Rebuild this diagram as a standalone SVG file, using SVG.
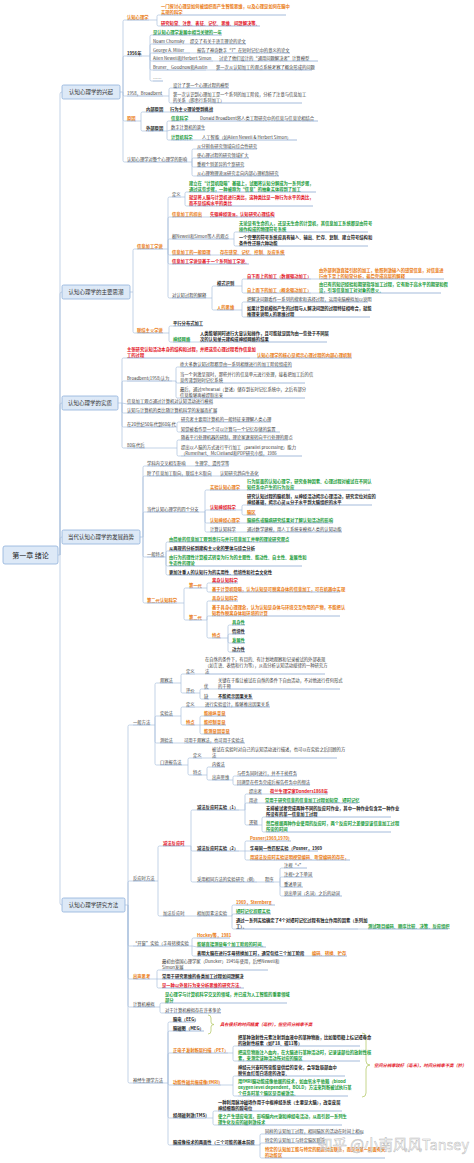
<svg xmlns="http://www.w3.org/2000/svg" width="474" height="1163" viewBox="0 0 474 1163">
<style>
text{font-family:"Noto Sans CJK SC","Noto Sans",sans-serif;font-size:4.3px;fill:#3a3a3a}
.b{font-weight:700;fill:#1e1e1e}
.o{font-weight:700;fill:#ea7a10}
.r{font-weight:700;fill:#e3101c}
.g{font-weight:700;fill:#219c3a}
.i{font-style:italic}
.u{stroke:#8eaad2;stroke-width:.8;fill:none}
.c{stroke:#aac0dc;stroke-width:.7;fill:none}
.box{fill:#dde9f7;stroke:#8fb0da;stroke-width:.8}
.bt{font-size:5.5px;fill:#333;text-anchor:middle}
.br{stroke:#b7cc6e;stroke-width:.8;fill:none}
.wm{font-size:14.5px;fill:#fff;fill-opacity:.8;stroke:#9a9a9a;stroke-width:.5;stroke-opacity:.7}
</style>
<rect width="474" height="1163" fill="#fff"/>
<g id="connectors">
<path class="c" d="M58,555H60M60,555V94Q60,92 62,92M60,555V294Q60,292 62,292M60,555V405Q60,403 62,403M60,555V539Q60,537 62,537M60,555V903Q60,905 62,905"/>
<path class="c" d="M120,92H123M123,92V21.5Q123,20 124.5,20H127M123,92V57.5Q123,56 124.5,56H127M123,92V94.5Q123,96 124.5,96H127M123,92V119.5Q123,121 124.5,121H127M123,92V160.5Q123,162 124.5,162H127"/>
<path class="c" d="M149,20H157M157,20V16.5Q157,15 158.5,15H161M157,20V24.5Q157,26 158.5,26H161"/>
<path class="c" d="M142,56H150M150,56V36.5Q150,35 151.5,35H153M150,56V45.5Q150,44 151.5,44H153M150,56V54.5Q150,53 151.5,53H153M150,56V59.5Q150,61 151.5,61H153M150,56V68.5Q150,70 151.5,70H153M150,56V79.5Q150,81 151.5,81H153M181,44H190M190,53H197M213,61H219M206,70H216"/>
<path class="c" d="M163,96H169M169,96V89.5Q169,88 170.5,88H173M169,96V101.5Q169,103 170.5,103H173"/>
<path class="c" d="M136,121H141M141,121V113.5Q141,112 142.5,112H146M141,121V129.5Q141,131 142.5,131H146M163,112H170M163,131H167M167,131V122.5Q167,121 168.5,121H171M167,131L171,130M167,131V138.5Q167,140 168.5,140H171M188,121H200M193,140H202"/>
<path class="c" d="M187,162H192M192,162V150.5Q192,149 193.5,149H197M192,162V159.5Q192,158 193.5,158H197M192,162V165.5Q192,167 193.5,167H197M192,162V174.5Q192,176 193.5,176H197"/>
<path class="c" d="M130,292H133M133,292V250.5Q133,249 134.5,249H137M133,292V331.5Q133,333 134.5,333H137"/>
<path class="c" d="M163,249H168M168,249V198.5Q168,197 169.5,197H172M168,249V218.5Q168,217 169.5,217H172M168,249V240.5Q168,239 169.5,239H172M168,249V253.5Q168,255 169.5,255H172M168,249V262.5Q168,264 169.5,264H172M168,249V296.5Q168,298 169.5,298H172"/>
<path class="c" d="M181,197H185M185,197V193.5Q185,192 186.5,192H189M185,197V204.5Q185,206 186.5,206H189M202,217H210M228,239H234M234,239V233.5Q234,232 235.5,232H239M234,239V244.5Q234,246 235.5,246H239M211,255H220"/>
<path class="c" d="M206,298H212M212,298V287.5Q212,286 213.5,286H217M212,298V308.5Q212,310 213.5,310H217M234,286H242M242,286V280.5Q242,279 243.5,279H247M242,286V291.5Q242,293 243.5,293H247M311,279H319M311,293H319M234,310H242M242,310V303.5Q242,302 243.5,302H247M242,310V315.5Q242,317 243.5,317H247"/>
<path class="c" d="M163,333H169M169,333V327.5Q169,326 170.5,326H173M169,333V340.5Q169,342 170.5,342H173M190,342H200"/>
<path class="c" d="M118,403H122M122,403V359.5Q122,358 123.5,358H127M122,403V382.5Q122,381 123.5,381H127M122,403L127,404M122,403V411.5Q122,413 123.5,413H127M122,403V425.5Q122,427 123.5,427H127M122,403V446.5Q122,448 123.5,448H127M250,358H257"/>
<path class="c" d="M172,381H176M176,381V368.5Q176,367 177.5,367H180M176,381V381.5Q176,383 177.5,383H180M176,381V396.5Q176,398 177.5,398H180M174,427H177M177,427V423.5Q177,422 178.5,422H181M177,427V430.5Q177,432 178.5,432H181M145,448H177M177,448V441.5Q177,440 178.5,440H181M177,448V454.5Q177,456 178.5,456H181"/>
<path class="c" d="M140,537H143M143,537V467.5Q143,466 144.5,466H147M143,537V477.5Q143,476 144.5,476H147M143,537V513.5Q143,512 144.5,512H147M143,537V555.5Q143,557 144.5,557H147M143,537V601.5Q143,603 144.5,603H147M186,466H195M212,476H220"/>
<path class="c" d="M199,512H205M205,512V491.5Q205,490 206.5,490H210M205,512V511.5Q205,510 206.5,510H210M205,512V521.5Q205,523 206.5,523H210M205,512V530.5Q205,532 206.5,532H210M240,490H247M236,510H242M242,510V506.5Q242,505 243.5,505H247M242,510V513.5Q242,515 243.5,515H247M240,523H247M236,532H247"/>
<path class="c" d="M164,557H166M166,557V543.5Q166,542 167.5,542H169M166,557V552.5Q166,551 167.5,551H169M166,557V564.5Q166,566 167.5,566H169M166,557V573.5Q166,575 167.5,575H169"/>
<path class="c" d="M177,603H184M184,603V589.5Q184,588 185.5,588H189M184,603V618.5Q184,620 185.5,620H189M202,588H207M207,588V584.5Q207,583 208.5,583H212M207,588V590.5Q207,592 208.5,592H212M202,620H207M207,620V602.5Q207,601 208.5,601H212M207,620V617.5Q207,616 208.5,616H212M207,620V636.5Q207,638 208.5,638H212M221,638H228M228,638V626.5Q228,625 229.5,625H232M228,638V635.5Q228,634 229.5,634H232M228,638V641.5Q228,643 229.5,643H232M228,638V650.5Q228,652 229.5,652H232"/>
<path class="c" d="M125,905H128M128,905V726.5Q128,725 129.5,725H133M128,905V882.5Q128,881 129.5,881H133M128,905V944.5Q128,946 129.5,946H133M128,905V977.5Q128,979 129.5,979H133M128,905V1005.5Q128,1007 129.5,1007H133M128,905V1081.5Q128,1083 129.5,1083H133"/>
<path class="c" d="M150,725H155M155,725V684.5Q155,683 156.5,683H160M155,725V717.5Q155,716 156.5,716H160M155,725V741.5Q155,743 156.5,743H160M155,725V763.5Q155,765 156.5,765H160"/>
<path class="c" d="M173,683H181M181,683V675.5Q181,674 182.5,674H186M181,683V691.5Q181,693 182.5,693H186M195,674H205M195,693H200M200,693V690.5Q200,689 201.5,689H204M200,693V697.5Q200,699 201.5,699H204M209,689H218M209,699H218"/>
<path class="c" d="M173,716H181M181,716V708.5Q181,707 182.5,707H186M181,716V723.5Q181,725 182.5,725H186M195,707H205M195,725H200M200,725V717.5Q200,716 201.5,716H204M200,725H204M200,725V732.5Q200,734 201.5,734H204M173,743H184"/>
<path class="c" d="M182,765H188M188,765V759.5Q188,758 189.5,758H193M188,765V773.5Q188,775 189.5,775H193M202,758H212M202,775H207M207,775V768.5Q207,767 208.5,767H212M207,775V778.5Q207,780 208.5,780H212M229,780H233M233,780V777.5Q233,776 234.5,776H237M233,780V783.5Q233,785 234.5,785H237"/>
<path class="c" d="M155,881H158M158,881V847.5Q158,846 159.5,846H163M158,881V914.5Q158,916 159.5,916H163M185,846H191M191,846V811.5Q191,810 192.5,810H197M191,846V849.5Q191,851 192.5,851H197M191,846V880.5Q191,882 192.5,882H197"/>
<path class="c" d="M239,810H245M245,810V795.5Q245,794 246.5,794H249M245,810V804.5Q245,803 246.5,803H249M245,810V823.5Q245,825 246.5,825H249M262,794H270M258,803H265M258,825H262M262,825V818.5Q262,817 263.5,817H266M262,825V830.5Q262,832 263.5,832H266"/>
<path class="c" d="M239,851H245M245,851V842.5Q245,841 246.5,841H250M245,851H250M245,851V858.5Q245,860 246.5,860H250M257,882H265M274,882H280M280,882V869.5Q280,868 281.5,868H284M280,882V878.5Q280,877 281.5,877H284M280,882V885.5Q280,887 281.5,887H284M280,882V894.5Q280,896 281.5,896H284"/>
<path class="c" d="M185,916H197M227,916H232M232,916V906.5Q232,905 233.5,905H236M232,916V915.5Q232,914 233.5,914H236M232,916V927.5Q232,929 233.5,929H236M358,929H368"/>
<path class="c" d="M187,946H192M192,946V939.5Q192,938 193.5,938H197M192,946L197,947M192,946V954.5Q192,956 193.5,956H197M304,956H312"/>
<path class="c" d="M150,979H157M157,979V971.5Q157,970 158.5,970H162M157,979H162M157,979V986.5Q157,988 158.5,988H162M155,1007H160M160,1007V1004.5Q160,1003 161.5,1003H165M160,1007V1011.5Q160,1013 161.5,1013H165"/>
<path class="c" d="M163,1083H168M168,1083V1023.5Q168,1022 169.5,1022H173M168,1083V1032.5Q168,1031 169.5,1031H173M168,1083V1054.5Q168,1053 169.5,1053H173M168,1083V1083.5Q168,1085 169.5,1085H173M168,1083V1116.5Q168,1118 169.5,1118H173M168,1083V1143.5Q168,1145 169.5,1145H173"/>
<path class="c" d="M228,1053H233M233,1053V1047.5Q233,1046 234.5,1046H238M233,1053V1059.5Q233,1061 234.5,1061H238M221,1085H233M233,1085V1077.5Q233,1076 234.5,1076H238M233,1085V1094.5Q233,1096 234.5,1096H238M206,1118H213M213,1118V1112.5Q213,1111 214.5,1111H218M213,1118V1123.5Q213,1125 214.5,1125H218M255,1145H260M260,1145V1135.5Q260,1134 261.5,1134H265M260,1145V1144.5Q260,1143 261.5,1143H265M260,1145V1156.5Q260,1158 261.5,1158H265"/>
<path class="br" d="M208,1015Q211,1015 211,1018V1022Q211,1024.5 214,1024.5Q211,1024.5 211,1027V1031Q211,1034 208,1034"/>
<path class="br" d="M362,1033Q366,1033 366,1037V1061Q366,1065 370,1065Q366,1065 366,1069V1093Q366,1097 362,1097"/>
</g>
<g id="root"><rect class="box" x="3" y="546" width="55" height="18" rx="2"/><text x="30.5" y="557.5" style="font-size:7px;text-anchor:middle;fill:#222">第一章 绪论</text></g>
<g id="main1"><rect class="box" x="62" y="85" width="58" height="14" rx="1.5"/><text class="bt" x="91" y="94">认知心理学的兴起</text></g>
<g id="main2"><rect class="box" x="62" y="285" width="68" height="14" rx="1.5"/><text class="bt" x="96" y="294">认知心理学的主要思潮</text></g>
<g id="main3"><rect class="box" x="62" y="396" width="56" height="14" rx="1.5"/><text class="bt" x="90" y="405">认知心理学的实质</text></g>
<g id="main4"><rect class="box" x="62" y="530" width="78" height="14" rx="1.5"/><text class="bt" x="101" y="539">当代认知心理学的发展趋势</text></g>
<g id="main5"><rect class="box" x="62" y="898" width="63" height="14" rx="1.5"/><text class="bt" x="93.5" y="907">认知心理学研究方法</text></g>

<g id="n1"><text class="o" x="127" y="18.5">认知心理学</text><path class="u" d="M127 20H149"/></g>
<g id="n1a"><text class="o" x="161" y="7.5">一门探讨心理是如何被组织而产生智能思维，以及心理是如何在脑中</text><text class="o" x="161" y="13.5">实现的科学</text><path class="u" d="M161 15H286"/></g>
<g id="n1b"><text class="r" x="161" y="24.5">研究知觉、注意、表征、记忆、思维、问题解决等。</text><path class="u" d="M161 26H260"/></g>
<g id="n2"><text class="b" x="127" y="54.5">1956年</text><path class="u" d="M127 56H142"/></g>
<g id="n2a"><text class="g" x="153" y="33.5">是认知心理学发展中相当关键的一年</text><path class="u" d="M153 35H222"/></g>
<g id="n2b"><text x="153" y="42.5">Noam Chomsky</text><path class="u" d="M153 44H181"/></g>
<g id="n2b1"><text x="190" y="42.5">提交了有关于语言理论的论文</text><path class="u" d="M190 44H246"/></g>
<g id="n2c"><text x="153" y="51.5">George A. Miller</text><path class="u" d="M153 53H190"/></g>
<g id="n2c1"><text x="197" y="51.5">报告了神奇数字“7”在短时记忆中的意义的论文</text><path class="u" d="M197 53H290"/></g>
<g id="n2d"><text x="153" y="59.5">Allen Newell和Herbert Simon</text><path class="u" d="M153 61H213"/></g>
<g id="n2d1"><text x="219" y="59.5">讨论了他们设计的“通用问题解决者”计算模型</text><path class="u" d="M219 61H318"/></g>
<g id="n2e"><text x="153" y="68.5">Bruner、Goodnow和Austin</text><path class="u" d="M153 70H206"/></g>
<g id="n2e1"><text x="216" y="68.5">第一次从认知加工的观点系统考察了概念形成的问题</text><path class="u" d="M216 70H312"/></g>
<g id="n2f"><text x="153" y="79.5">……</text><path class="u" d="M153 81H163"/></g>
<g id="n3"><text x="127" y="94.5">1958，Broadbent</text><path class="u" d="M127 96H163"/></g>
<g id="n3a"><text x="173" y="86.5">设计了第一个心理过程的模型</text><path class="u" d="M173 88H229"/></g>
<g id="n3b"><text x="173" y="95.5">第一次认识到心理加工是一个系列的加工阶段，分析了注意与信息加工</text><text x="173" y="101.5">的关系（即串行系列加工）</text><path class="u" d="M173 103H302"/></g>
<g id="n4"><text class="o" x="127" y="119.5">原因</text><path class="u" d="M127 121H136"/></g>
<g id="n4a"><text class="b" x="146" y="110.5">内部原因</text><path class="u" d="M146 112H163"/></g>
<g id="n4a1"><text class="b" x="170" y="110.5">行为主义理论受到挑战</text><path class="u" d="M170 112H213"/></g>
<g id="n4b"><text class="b" x="146" y="129.5">外部原因</text><path class="u" d="M146 131H163"/></g>
<g id="n4b1"><text class="g" x="171" y="119.5">信息科学</text><path class="u" d="M171 121H188"/></g>
<g id="n4b1a"><text x="200" y="119.5">Donald Broadbent将人类工程研究中的信息与信息论相结合</text><path class="u" d="M200 121H318"/></g>
<g id="n4b2"><text x="171" y="128.5">数字计算机的诞生</text><path class="u" d="M171 130H205"/></g>
<g id="n4b3"><text class="g" x="171" y="138.5">计算机科学</text><path class="u" d="M171 140H193"/></g>
<g id="n4b3a"><text x="202" y="138.5">人工智能（如Allen Newell &amp; Herbert Simon）</text><path class="u" d="M202 140H297"/></g>
<g id="n5"><text x="127" y="160.5">认知心理学对整个心理学的影响</text><path class="u" d="M127 162H187"/></g>
<g id="n5a"><text x="197" y="147.5">从分割各研究领域向综合性研究</text><path class="u" d="M197 149H257"/></g>
<g id="n5b"><text x="197" y="156.5">使心理过程的研究领域扩大</text><path class="u" d="M197 158H249"/></g>
<g id="n5c"><text x="197" y="165.5">重视个别差异的个案研究</text><path class="u" d="M197 167H244"/></g>
<g id="n5d"><text x="197" y="174.5">从心理物理流派研究走向内部心理机制研究</text><path class="u" d="M197 176H279"/></g>

<g id="m1"><text class="o" x="137" y="247.5">信息加工学说</text><path class="u" d="M137 249H163"/></g>
<g id="m1a"><text x="172" y="195.5">定义</text><path class="u" d="M172 197H181"/></g>
<g id="m1a1"><text class="g" x="189" y="184.5">建立在“计算机隐喻”基础上，试图将认知分解成为一系列步骤，</text><text class="g" x="189" y="190.5">通过这些步骤，一种被称为“信息”的抽象实体得到了加工</text><path class="u" d="M189 192H316"/></g>
<g id="m1a2"><text class="r" x="189" y="198.5">就是将人脑与计算机进行类比，这种类比是一种行为水平的类比，</text><text class="r" x="189" y="204.5">而不是结构水平的类比</text><path class="u" d="M189 206H313"/></g>
<g id="m1b"><text class="o" x="172" y="215.5">信息加工的提出</text><path class="u" d="M172 217H202"/></g>
<g id="m1b1"><text class="r" x="210" y="215.5">先驱神经流派，认知研究心理结构</text><path class="u" d="M210 217H275"/></g>
<g id="m1c"><text x="172" y="237.5">据Newell和Simon等人的观点</text><path class="u" d="M172 239H228"/></g>
<g id="m1c1"><text class="g" x="239" y="224.5">无论是有生命的人，还是无生命的计算机，其信息加工系统都是由符号</text><text class="g" x="239" y="230.5">操作构成的物理符号系统</text><path class="u" d="M239 232H368"/></g>
<g id="m1c2"><text class="b" x="239" y="238.5">一个完整的符号系统应具有输入、输出、贮存、复制、建立符号结构和</text><text class="b" x="239" y="244.5">条件性迁移六种功能</text><path class="u" d="M239 246H368"/></g>
<g id="m1d"><text class="o" x="172" y="253.5">信息加工的一般原理</text><path class="u" d="M172 255H211"/></g>
<g id="m1d1"><text class="o" x="220" y="253.5">存在感觉、记忆、控制、反应系统</text><path class="u" d="M220 255H285"/></g>
<g id="m1e"><text class="r" x="172" y="262.5">信息加工学说是基于一个系列加工学说。</text><path class="u" d="M172 264H249"/></g>
<g id="m1f"><text x="172" y="296.5">对认知过程的解释</text><path class="u" d="M172 298H206"/></g>
<g id="m1f1"><text class="b" x="217" y="284.5">模式识别</text><path class="u" d="M217 286H234"/></g>
<g id="m1f1a"><text class="r" x="247" y="277.5">自下而上的加工（数据驱动加工）</text><path class="u" d="M247 279H311"/></g>
<g id="m1f1a1"><text class="o" x="319" y="271.5">由外部刺激直接引起的加工，依照刺激输入的感觉信息，对信息进</text><text class="o" x="319" y="277.5">行由下至上的知觉分析，最后完成高层的解释</text><path class="u" d="M319 279H444"/></g>
<g id="m1f1b"><text class="o" x="247" y="291.5">自上而下的加工（概念驱动加工）</text><path class="u" d="M247 293H311"/></g>
<g id="m1f1b1"><text class="g" x="319" y="285.5">由已有的知识经验和期望指导加工过程，它有助于高水平的期望和假</text><text class="g" x="319" y="291.5">设，引导信息加工对对象的意义。</text><path class="u" d="M319 293H441"/></g>
<g id="m1f2"><text class="o" x="217" y="308.5">人的思维</text><path class="u" d="M217 310H234"/></g>
<g id="m1f2a"><text x="247" y="300.5">把解决问题看作一系列的搜索和选择过程，运用电脑模拟加以说明</text><path class="u" d="M247 302H368"/></g>
<g id="m1f2b"><text class="b" x="247" y="309.5">如果计算机模拟产生的过程与人解决问题的过程特征相吻合，就能</text><text class="b" x="247" y="315.5">推理来说明人的思维过程</text><path class="u" d="M247 317H370"/></g>
<g id="m2"><text class="o" x="137" y="331.5">联结主义学说</text><path class="u" d="M137 333H163"/></g>
<g id="m2a"><text class="b" x="173" y="324.5">平行分布式加工</text><path class="u" d="M173 326H203"/></g>
<g id="m2b"><text class="g" x="173" y="340.5">神经网络</text><path class="u" d="M173 342H190"/></g>
<g id="m2b1"><text class="b" x="200" y="334.5">人类能够同时进行大量认知操作，且可能就是因为由一些处于不同层</text><text class="b" x="200" y="340.5">次的认知单元建构成神经网络的结果</text><path class="u" d="M200 342H327"/></g>

<g id="k1"><text class="r" x="127" y="350.5">主张研究认知活动本身的结构和过程，并把这些心理过程看作信息加</text><text class="r" x="127" y="356.5">工的过程</text><path class="u" d="M127 358H250"/></g>
<g id="k1a"><text class="o" x="257" y="356.5">认知心理学的核心是揭示心理过程的内部心理机制</text><path class="u" d="M257 358H352"/></g>
<g id="k2"><text x="127" y="379.5">Broadbent(1958)认为</text><path class="u" d="M127 381H172"/></g>
<g id="k2a"><text x="180" y="365.5">绝大多数认知过程都是由一系列相继进行的加工阶段组成的</text><path class="u" d="M180 367H292"/></g>
<g id="k2b"><text x="180" y="375.5">当一个刺激呈现时，那些并行的信息单元进行处理，接着把加工后的信</text><text x="180" y="381.5">息传递到短时记忆系统</text><path class="u" d="M180 383H305"/></g>
<g id="k2c"><text x="180" y="390.5">最后，通过rehearsal（复述）储存到长时记忆系统中，之后有部分</text><text x="180" y="396.5">信息能够再被提取出来</text><path class="u" d="M180 398H305"/></g>
<g id="k3"><text x="127" y="402.5">信息加工观点通过计算机对认知活动进行模拟</text><path class="u" d="M127 404H213"/></g>
<g id="k4"><text x="127" y="411.5">认知与计算机的类比随计算机科学的发展而扩展</text><path class="u" d="M127 413H217"/></g>
<g id="k5"><text x="127" y="425.5">在20世纪50年代到60年代</text><path class="u" d="M127 427H174"/></g>
<g id="k5a"><text x="181" y="420.5">研究者主要用计算机的一般特征来理解人类心理</text><path class="u" d="M181 422H271"/></g>
<g id="k5b"><text x="181" y="430.5">知觉被看作是一个可以计算与一个记忆存储的装置</text><path class="u" d="M181 432H280"/></g>
<g id="k6"><text x="127" y="446.5">80年代后</text><path class="u" d="M127 448H145"/></g>
<g id="k6a"><text x="181" y="438.5">随着平行处理机器的研制，理论家逐渐转向平行处理的观点</text><path class="u" d="M181 440H288"/></g>
<g id="k6b"><text x="181" y="448.5">提出以人脑的方式进行平行加工（parallel processing）能力</text><text x="181" y="454.5">（Rumelhart、McClelland和PDP研究小组，1986</text><path class="u" d="M181 456H302"/></g>

<g id="d1"><text x="147" y="464.5">学科内交叉相互影响</text><path class="u" d="M147 466H186"/></g>
<g id="d1a"><text x="195" y="464.5">生理学、遗传学等</text><path class="u" d="M195 466H229"/></g>
<g id="d2"><text x="147" y="474.5">除了信息加工取向，联结主义取向</text><path class="u" d="M147 476H212"/></g>
<g id="d2a"><text x="220" y="474.5">认知研究趋向生态化</text><path class="u" d="M220 476H259"/></g>
<g id="d3"><text x="147" y="510.5">当代认知心理学的四个分支</text><path class="u" d="M147 512H199"/></g>
<g id="d3a"><text class="o" x="210" y="488.5">实验认知心理学</text><path class="u" d="M210 490H240"/></g>
<g id="d3a1"><text class="g" x="247" y="482.5">行为层面的认知心理学，研究各种因素、心理过程对被试在不同认</text><text class="g" x="247" y="488.5">知任务中产生的行为反应</text><path class="u" d="M247 490H370"/></g>
<g id="d3b"><text class="r" x="210" y="508.5">认知神经科学</text><path class="u" d="M210 510H236"/></g>
<g id="d3b1"><text class="b" x="247" y="497.5">研究认知过程的脑机制，从神经活动揭示心理活动，研究定位对应的</text><text class="b" x="247" y="503.5">神经基础，揭示心灵从分子水平到大脑组织的水平</text><path class="u" d="M247 505H372"/></g>
<g id="d3b2"><text class="o" x="247" y="513.5">脑区</text><path class="u" d="M247 515H256"/></g>
<g id="d3c"><text class="o" x="210" y="521.5">认知神经心理学</text><path class="u" d="M210 523H240"/></g>
<g id="d3c1"><text class="g" x="247" y="521.5">脑损伤或脑病研究结果对了解认知活动的影响</text><path class="u" d="M247 523H333"/></g>
<g id="d3d"><text x="210" y="530.5">计算认知科学</text><path class="u" d="M210 532H236"/></g>
<g id="d3d1"><text x="247" y="530.5">通过数学建模，用人工系统来模拟人类的认知功能</text><path class="u" d="M247 532H342"/></g>
<g id="d4"><text x="147" y="555.5">一般特点</text><path class="u" d="M147 557H164"/></g>
<g id="d4a"><text class="g" x="169" y="540.5">由简单的信息加工观到串行与并行信息加工并举的理论研究观点</text><path class="u" d="M169 542H285"/></g>
<g id="d4b"><text class="b" x="169" y="549.5">从再现的分析到建构主义化的整体与综合分析</text><path class="u" d="M169 551H252"/></g>
<g id="d4c"><text class="g" x="169" y="558.5">由行为的理性计算模式转变为行为的主观性、能动性、自主性、发展性和</text><text class="g" x="169" y="564.5">生态性的理论</text><path class="u" d="M169 566H302"/></g>
<g id="d4d"><text class="b" x="169" y="573.5">更加注重人的认知行为的实用性、情境性和社会文化性</text><path class="u" d="M169 575H268"/></g>
<g id="d5"><text class="o" x="147" y="601.5">第二代认知科学</text><path class="u" d="M147 603H177"/></g>
<g id="d5a"><text class="o" x="189" y="586.5">第一代</text><path class="u" d="M189 588H202"/></g>
<g id="d5a1"><text class="r" x="212" y="581.5">离身认知科学</text><path class="u" d="M212 583H238"/></g>
<g id="d5a2"><text class="o" x="212" y="590.5">基于计算机隐喻，认为认知是可脱离身体的信息加工，可在机器中实现</text><path class="u" d="M212 592H340"/></g>
<g id="d5b"><text class="o" x="189" y="618.5">第二代</text><path class="u" d="M189 620H202"/></g>
<g id="d5b1"><text class="o" x="212" y="599.5">具身认知科学</text><path class="u" d="M212 601H238"/></g>
<g id="d5b2"><text class="o" x="212" y="608.5">基于具身心理理念，认为认知是身体与环境交互作用的产物，不能把认</text><text class="o" x="212" y="614.5">知看作脱离身体和环境的计算</text><path class="u" d="M212 616H340"/></g>
<g id="d5b3"><text class="o" x="212" y="636.5">特点</text><path class="u" d="M212 638H221"/></g>
<g id="d5b3a"><text class="g" x="232" y="623.5">具身性</text><path class="u" d="M232 625H245"/></g>
<g id="d5b3b"><text class="b" x="232" y="632.5">情境性</text><path class="u" d="M232 634H245"/></g>
<g id="d5b3c"><text class="g" x="232" y="641.5">发展性</text><path class="u" d="M232 643H245"/></g>
<g id="d5b3d"><text class="b" x="232" y="650.5">动力性</text><path class="u" d="M232 652H245"/></g>

<g id="e1"><text x="133" y="723.5">一般方法</text><path class="u" d="M133 725H150"/></g>
<g id="e1a"><text x="160" y="681.5">观察法</text><path class="u" d="M160 683H173"/></g>
<g id="e1a1"><text x="186" y="672.5">定义</text><path class="u" d="M186 674H195"/></g>
<g id="e1a1a"><text x="205" y="660.5">在自然的条件下，有目的、有计划地观察和记录被试的外部表现</text><text x="205" y="666.5">（如言语、表情和行为等），从而分析认知活动规律的一种研究方</text><text x="205" y="672.5">法</text><path class="u" d="M205 674H325"/></g>
<g id="e1a2"><text x="186" y="691.5">评价</text><path class="u" d="M186 693H195"/></g>
<g id="e1a2a"><text x="204" y="687.5">优</text><path class="u" d="M204 689H209"/></g>
<g id="e1a2a1"><text x="218" y="681.5">关键在于能让被试在自然的条件下自由活动，不对他进行任何形式</text><text x="218" y="687.5">的干预</text><path class="u" d="M218 689H340"/></g>
<g id="e1a2b"><text x="204" y="697.5">缺</text><path class="u" d="M204 699H209"/></g>
<g id="e1a2b1"><text class="b" x="218" y="697.5">不能揭示因果关系</text><path class="u" d="M218 699H253"/></g>
<g id="e1b"><text x="160" y="714.5">实验法</text><path class="u" d="M160 716H173"/></g>
<g id="e1b1"><text x="186" y="705.5">定义</text><path class="u" d="M186 707H195"/></g>
<g id="e1b1a"><text x="205" y="705.5">进行实验设计，能够推出因果关系</text><path class="u" d="M205 707H270"/></g>
<g id="e1b2"><text class="o" x="186" y="723.5">特点</text><path class="u" d="M186 725H195"/></g>
<g id="e1b2a"><text class="o" x="204" y="714.5">能操纵变量</text><path class="u" d="M204 716H226"/></g>
<g id="e1b2b"><text class="o" x="204" y="723.5">能控制变量</text><path class="u" d="M204 725H226"/></g>
<g id="e1b2c"><text class="o" x="204" y="732.5">能测量因变量</text><path class="u" d="M204 734H230"/></g>
<g id="e1c"><text x="160" y="741.5">测验法</text><path class="u" d="M160 743H173"/></g>
<g id="e1c1"><text x="184" y="741.5">可用于观察法，也可用于实验法</text><path class="u" d="M184 743H245"/></g>
<g id="e1d"><text x="160" y="763.5">口语报告法</text><path class="u" d="M160 765H182"/></g>
<g id="e1d1"><text x="193" y="756.5">定义</text><path class="u" d="M193 758H202"/></g>
<g id="e1d1a"><text x="212" y="750.5">被试在实验时对自己的认知活动进行描述，也可以在实验之后回顾的方</text><text x="212" y="756.5">法</text><path class="u" d="M212 758H337"/></g>
<g id="e1d2"><text x="193" y="773.5">特点</text><path class="u" d="M193 775H202"/></g>
<g id="e1d2a"><text x="212" y="765.5">内省法</text><path class="u" d="M212 767H225"/></g>
<g id="e1d2b"><text x="212" y="778.5">出声思维</text><path class="u" d="M212 780H229"/></g>
<g id="e1d2b1"><text x="237" y="774.5">与任务同时进行，并不干扰任务</text><path class="u" d="M237 776H297"/></g>
<g id="e1d2b2"><text x="237" y="783.5">回溯是在任务完成后报告任务中的想法</text><path class="u" d="M237 785H310"/></g>

<g id="e2"><text x="133" y="879.5">反应时方法</text><path class="u" d="M133 881H155"/></g>
<g id="e2a"><text class="r" x="163" y="844.5">减法反应时</text><path class="u" d="M163 846H185"/></g>
<g id="e2a1"><text class="b" x="197" y="808.5">减法反应时实验（1）</text><path class="u" d="M197 810H239"/></g>
<g id="e2a1a"><text x="249" y="792.5">提出者</text><path class="u" d="M249 794H262"/></g>
<g id="e2a1a1"><text class="r" x="270" y="792.5">荷兰生理学家Donders1868年</text><path class="u" d="M270 794H328"/></g>
<g id="e2a1b"><text x="249" y="801.5">用途</text><path class="u" d="M249 803H258"/></g>
<g id="e2a1b1"><text class="g" x="265" y="801.5">常用于研究信息的信息加工过程如知觉、短时记忆</text><path class="u" d="M265 803H358"/></g>
<g id="e2a1c"><text x="249" y="823.5">逻辑</text><path class="u" d="M249 825H258"/></g>
<g id="e2a1c1"><text class="b" x="266" y="809.5">安排被试者完成两种不同的反应时作业，其中一种作业包含另一种作业</text><text class="b" x="266" y="815.5">所没有的某一信息加工过程</text><path class="u" d="M266 817H391"/></g>
<g id="e2a1c2"><text class="g" x="266" y="824.5">然后根据两种作业使用的反应时，两个反应时之差便是该信息加工过程</text><text class="g" x="266" y="830.5">所需的时间</text><path class="u" d="M266 832H391"/></g>
<g id="e2a2"><text class="b" x="197" y="849.5">减法反应时实验（2）</text><path class="u" d="M197 851H239"/></g>
<g id="e2a2a"><text class="o" x="250" y="839.5">Posner(1969,1970)</text><path class="u" d="M250 841H291"/></g>
<g id="e2a2b"><text class="b" x="250" y="849.5">字母同一性匹配实验（Posner，1969</text><path class="u" d="M250 851H318"/></g>
<g id="e2a2c"><text class="o" x="250" y="858.5">用减法反应时实验证明视觉编码、听觉编码的存在，</text><path class="u" d="M250 860H350"/></g>
<g id="e2a3"><text x="197" y="880.5">采用相同方法的实验研究（例）</text><path class="u" d="M197 882H257"/></g>
<g id="e2a3a"><text x="265" y="880.5">程序</text><path class="u" d="M265 882H274"/></g>
<g id="e2a3a1"><text x="284" y="866.5">注视“+”</text><path class="u" d="M284 868H307"/></g>
<g id="e2a3a2"><text x="284" y="875.5">注视+之下单词</text><path class="u" d="M284 877H313"/></g>
<g id="e2a3a3"><text x="284" y="885.5">重述单词</text><path class="u" d="M284 887H303"/></g>
<g id="e2a3a4"><text x="284" y="894.5">说出单词（名词）之后的动词</text><path class="u" d="M284 896H342"/></g>
<g id="e2b"><text x="163" y="914.5">加法反应时</text><path class="u" d="M163 916H185"/></g>
<g id="e2b1"><text x="197" y="914.5">相加因素法实验</text><path class="u" d="M197 916H227"/></g>
<g id="e2b1a"><text class="o" x="236" y="903.5">1969，Sternberg</text><path class="u" d="M236 905H275"/></g>
<g id="e2b1b"><text class="g" x="236" y="912.5">短时记忆提取实验</text><path class="u" d="M236 914H271"/></g>
<g id="e2b1c"><text class="b" x="236" y="921.5">通过一系列实验确定了4个对短时记忆过程有独立作用的因素（系列加</text><text class="b" x="236" y="927.5">工）。</text><path class="u" d="M236 929H358"/></g>
<g id="e2b1c1"><text class="g" x="368" y="927.5">测试项目编码、顺序比较、决策、反应组织</text><path class="u" d="M368 929H448"/></g>
<g id="e3"><text x="133" y="944.5">“开窗”实验（字母转换实验</text><path class="u" d="M133 946H187"/></g>
<g id="e3a"><text class="o" x="197" y="936.5">Hockey等，1981</text><path class="u" d="M197 938H230"/></g>
<g id="e3b"><text class="g" x="197" y="945.5">能够直接测量每个加工阶段的时间。</text><path class="u" d="M197 947H266"/></g>
<g id="e3c"><text class="b" x="197" y="954.5">表明大脑在进行字母转换加工时，通常包括三个加工阶段</text><path class="u" d="M197 956H304"/></g>
<g id="e3c1"><text class="o" x="312" y="954.5">编码、转换、贮存</text><path class="u" d="M312 956H347"/></g>
<g id="e4"><text class="o" x="133" y="977.5">出声思考</text><path class="u" d="M133 979H150"/></g>
<g id="e4a"><text x="162" y="962.5">最初由德国心理学家（Duncker）1945年使用，后经Newell和</text><text x="162" y="968.5">Simon发展</text><path class="u" d="M162 970H268"/></g>
<g id="e4b"><text class="b" x="162" y="977.5">常用于研究思维的各类加工过程如问题解决</text><path class="u" d="M162 979H240"/></g>
<g id="e4c"><text class="r" x="162" y="986.5">是一种以外显行为来分析思维的研究方法。</text><path class="u" d="M162 988H244"/></g>
<g id="e5"><text x="133" y="1005.5">计算机模拟</text><path class="u" d="M133 1007H155"/></g>
<g id="e5a"><text class="g" x="165" y="995.5">是心理学与计算机科学交叉的领域，并已成为人工智能的重要领域</text><text class="g" x="165" y="1001.5">部分</text><path class="u" d="M165 1003H287"/></g>
<g id="e5b"><text x="165" y="1011.5">对于计算机模拟存在许多争论</text><path class="u" d="M165 1013H221"/></g>
<g id="e6"><text x="133" y="1081.5">神经生理学方法</text><path class="u" d="M133 1083H163"/></g>
<g id="e6a"><text class="b" x="173" y="1020.5">脑电（EEG）</text><path class="u" d="M173 1022H195"/></g>
<g id="e6b"><text class="b" x="173" y="1029.5">脑磁图（MEG）</text><path class="u" d="M173 1031H204"/></g>
<g id="e6t"><text class="r i" x="220" y="1025.5">具有很好的时间精度（毫秒），但空间分辨率不高</text></g>
<g id="e6c"><text class="o" x="173" y="1051.5">正电子发射断层扫描（PET）</text><path class="u" d="M173 1053H228"/></g>
<g id="e6c1"><text class="b" x="238" y="1038.5">把某种放射性元素注射到血液中的某种物质，比如葡萄糖上标记短寿命</text><text class="b" x="238" y="1044.5">的放射性核素（如F18、碳11等）</text><path class="u" d="M238 1046H360"/></g>
<g id="e6c2"><text class="g" x="238" y="1053.5">把这些物质注入血内，在大脑进行某种活动时，记录该部位的放射性核</text><text class="g" x="238" y="1059.5">素，来测定该种活动所对应的脑区</text><path class="u" d="M238 1061H360"/></g>
<g id="e6d"><text class="o" x="173" y="1083.5">功能性磁共振成像(fMRI)</text><path class="u" d="M173 1085H221"/></g>
<g id="e6d1"><text class="b" x="238" y="1068.5">神经元兴奋时所需能量供给的变化，会导致局部血中</text><text class="b" x="238" y="1074.5">脱氧血红蛋白浓度的改变。</text><path class="u" d="M238 1076H345"/></g>
<g id="e6d2"><text class="g" x="238" y="1082.5">用fMRI脑功能成像依据的技术，如血氧水平依赖（blood</text><text class="g" x="238" y="1088.5">oxygen level dependent，BOLD）方法来判断被试执行某</text><text class="g" x="238" y="1094.5">个任务时某个脑区是否被激活。</text><path class="u" d="M238 1096H348"/></g>
<g id="e6e"><text class="b" x="173" y="1116.5">经颅磁刺激(TMS)</text><path class="u" d="M173 1118H206"/></g>
<g id="e6e1"><text class="b" x="218" y="1103.5">一种利用脉冲磁场作用于中枢神经系统（主要是大脑），改变皮层</text><text class="b" x="218" y="1109.5">神经细胞的膜电位</text><path class="u" d="M218 1111H342"/></g>
<g id="e6e2"><text class="g" x="218" y="1117.5">使之产生感应电流，影响脑内代谢和神经电活动，从而引起一系列生</text><text class="g" x="218" y="1123.5">理生化反应的磁刺激技术</text><path class="u" d="M218 1125H342"/></g>
<g id="e6f"><text class="b" x="173" y="1143.5">脑成像技术的两面性（三个可能的基本前提</text><path class="u" d="M173 1145H255"/></g>
<g id="e6f1"><text x="265" y="1132.5">同样的认知加工过程，相同脑区的活动在时间上相似</text><path class="u" d="M265 1134H362"/></g>
<g id="e6f2"><text x="265" y="1141.5">特定的认知加工与特定脑区联系</text><path class="u" d="M265 1143H325"/></g>
<g id="e6f3"><text class="o" x="265" y="1150.5">特定的认知加工能与特定的脑区对应联系，而是与某一层面有关</text><text class="o" x="265" y="1156.5">的功能区</text><path class="u" d="M265 1158H385"/></g>
<g id="e6g"><text class="r i" x="374" y="1066.5">空间分辨率较好（毫米），时间分辨率不高（秒）</text></g>
<g id="watermark"><text class="wm" x="318" y="1150">知乎 @小南风风Tansey</text></g>
</svg>
